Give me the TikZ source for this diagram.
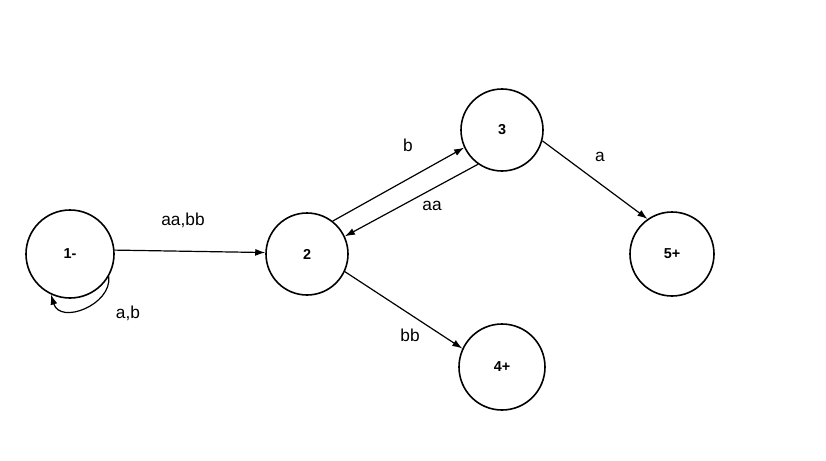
\documentclass[tikz,border=0pt]{standalone}
\usepackage{fontspec}
\setmainfont{Liberation Sans}
\usetikzlibrary{arrows.meta}
\begin{document}
\begin{tikzpicture}[x=1pt,y=-1pt,
  st/.style={circle,draw,line width=1.6pt,font=\Large\bfseries,inner sep=0pt},
  lab/.style={font=\LARGE},
  ed/.style={-{Latex[length=10pt,width=7pt]},line width=1.2pt}]
\useasboundingbox (0,0) rectangle (826,460);
\node[st,minimum size=88pt] (n1) at (70,254) {1-};
\node[st,minimum size=82pt] (n2) at (307,254) {2};
\node[st,minimum size=82pt] (n3) at (502,130) {3};
\node[st,minimum size=84pt] (n5) at (672,254) {5+};
\node[st,minimum size=86pt] (n4) at (502,367) {4+};
\draw[ed] (n1.5) -- (n2.178);
\draw[ed] (n2.52) -- (n3.205);
\draw[ed] (n3.235) -- (n2.25);
\draw[ed] (n2.-25) -- (n4.155);
\draw[ed] (n3.-15) -- (n5.125);
\draw[ed] (n1.-30) .. controls (112,305) and (60,325) .. (n1.-115);
\node[lab] at (183,220) {aa,bb};
\node[lab] at (408,145) {b};
\node[lab] at (432,206) {aa};
\node[lab] at (410,335) {bb};
\node[lab] at (600,157) {a};
\node[lab] at (128,313) {a,b};
\end{tikzpicture}
\end{document}
